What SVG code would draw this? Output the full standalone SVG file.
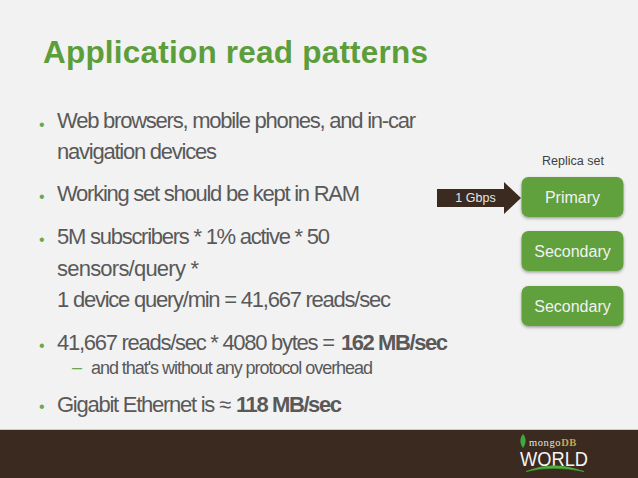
<svg xmlns="http://www.w3.org/2000/svg" width="638" height="478" viewBox="0 0 638 478">
<defs>
<filter id="sh" x="-10%" y="-15%" width="120%" height="135%"><feDropShadow dx="0" dy="1.5" stdDeviation="1.5" flood-color="#000" flood-opacity="0.35"/></filter>
</defs>
<style>
text{font-family:"Liberation Sans",Arial,sans-serif}
.b{font-size:22px;fill:#595959}
.s{font-weight:bold}
.d{fill:#6aa84f;font-size:16px}
.n{fill:#60a03c;filter:url(#sh)}
.nt{font-size:16px;fill:#f2f2f2;text-anchor:middle}
</style>
<rect width="638" height="478" fill="#f2f2f2"/>
<rect y="429" width="638" height="1.500" fill="#c9c9c9"/>
<rect y="430" width="638" height="48" fill="#3b2a20"/>
<text x="43" y="63" font-size="31.500" font-weight="bold" fill="#5d9e3c" textLength="385" lengthAdjust="spacing">Application read patterns</text>
<g id="bullets">
<text class="d" x="39" y="130">•</text>
<text class="b" x="57" y="128" textLength="359" lengthAdjust="spacing">Web browsers, mobile phones, and in-car</text>
<text class="b" x="57" y="159" textLength="160" lengthAdjust="spacing">navigation devices</text>
<text class="d" x="39" y="202">•</text>
<text class="b" x="57" y="201" textLength="303" lengthAdjust="spacing">Working set should be kept in RAM</text>
<text class="d" x="39" y="245">•</text>
<text class="b" x="57" y="244" textLength="273" lengthAdjust="spacing">5M subscribers * 1% active * 50</text>
<text class="b" x="57" y="276" textLength="142" lengthAdjust="spacing">sensors/query *</text>
<text class="b" x="57" y="307" textLength="334" lengthAdjust="spacing">1 device query/min = 41,667 reads/sec</text>
<text class="d" x="39" y="351">•</text>
<text class="b" x="57" y="350" textLength="278" lengthAdjust="spacing">41,667 reads/sec * 4080 bytes =</text>
<text class="b s" x="341" y="350" textLength="107" lengthAdjust="spacing">162 MB/sec</text>
<text x="72" y="373" font-size="18" fill="#6aa84f">–</text>
<text x="91" y="374" font-size="18" fill="#595959" textLength="282" lengthAdjust="spacing">and that's without any protocol overhead</text>
<text class="d" x="39" y="412">•</text>
<text class="b" x="57" y="412" textLength="174" lengthAdjust="spacing">Gigabit Ethernet is ≈</text>
<text class="b s" x="236" y="412" textLength="106" lengthAdjust="spacing">118 MB/sec</text>
</g>
<text x="573" y="165" font-size="12.500" fill="#404040" text-anchor="middle">Replica set</text>
<g id="connectors">
<path d="M437 189H504V182L521 198L504 214V207H437Z" fill="#3b2a20"/>
<text x="475.500" y="201.500" font-size="12.500" fill="#e6e6e6" text-anchor="middle">1 Gbps</text>
</g>
<g id="primary"><rect class="n" x="521.500" y="177" width="102" height="40" rx="7"/><text class="nt" x="572.500" y="203">Primary</text></g>
<g id="secondary1"><rect class="n" x="521.500" y="231" width="102" height="40" rx="7"/><text class="nt" x="572.500" y="257">Secondary</text></g>
<g id="secondary2"><rect class="n" x="521.500" y="286" width="102" height="40" rx="7"/><text class="nt" x="572.500" y="312">Secondary</text></g>
<g id="logo">
<path d="M523 434C519.500 438 519.500 443 523 448C526.500 443 526.500 438 523 434Z" fill="#3fa83f"/>
<text x="529" y="446" font-size="10.500" fill="#e8e4dc" letter-spacing="0.600" style="font-family:'Liberation Serif',serif">mongo<tspan fill="#c5a94f" font-weight="bold">DB</tspan></text>
<text x="520" y="465.500" font-size="19.500" fill="#f5f5f5" textLength="68" lengthAdjust="spacingAndGlyphs">WORLD</text>
<path d="M526 471.500Q553 460 584 471.500Q553 465 526 471.500Z" fill="#4caf3a" stroke="#4caf3a" stroke-width="0.600"/>
</g>
</svg>
